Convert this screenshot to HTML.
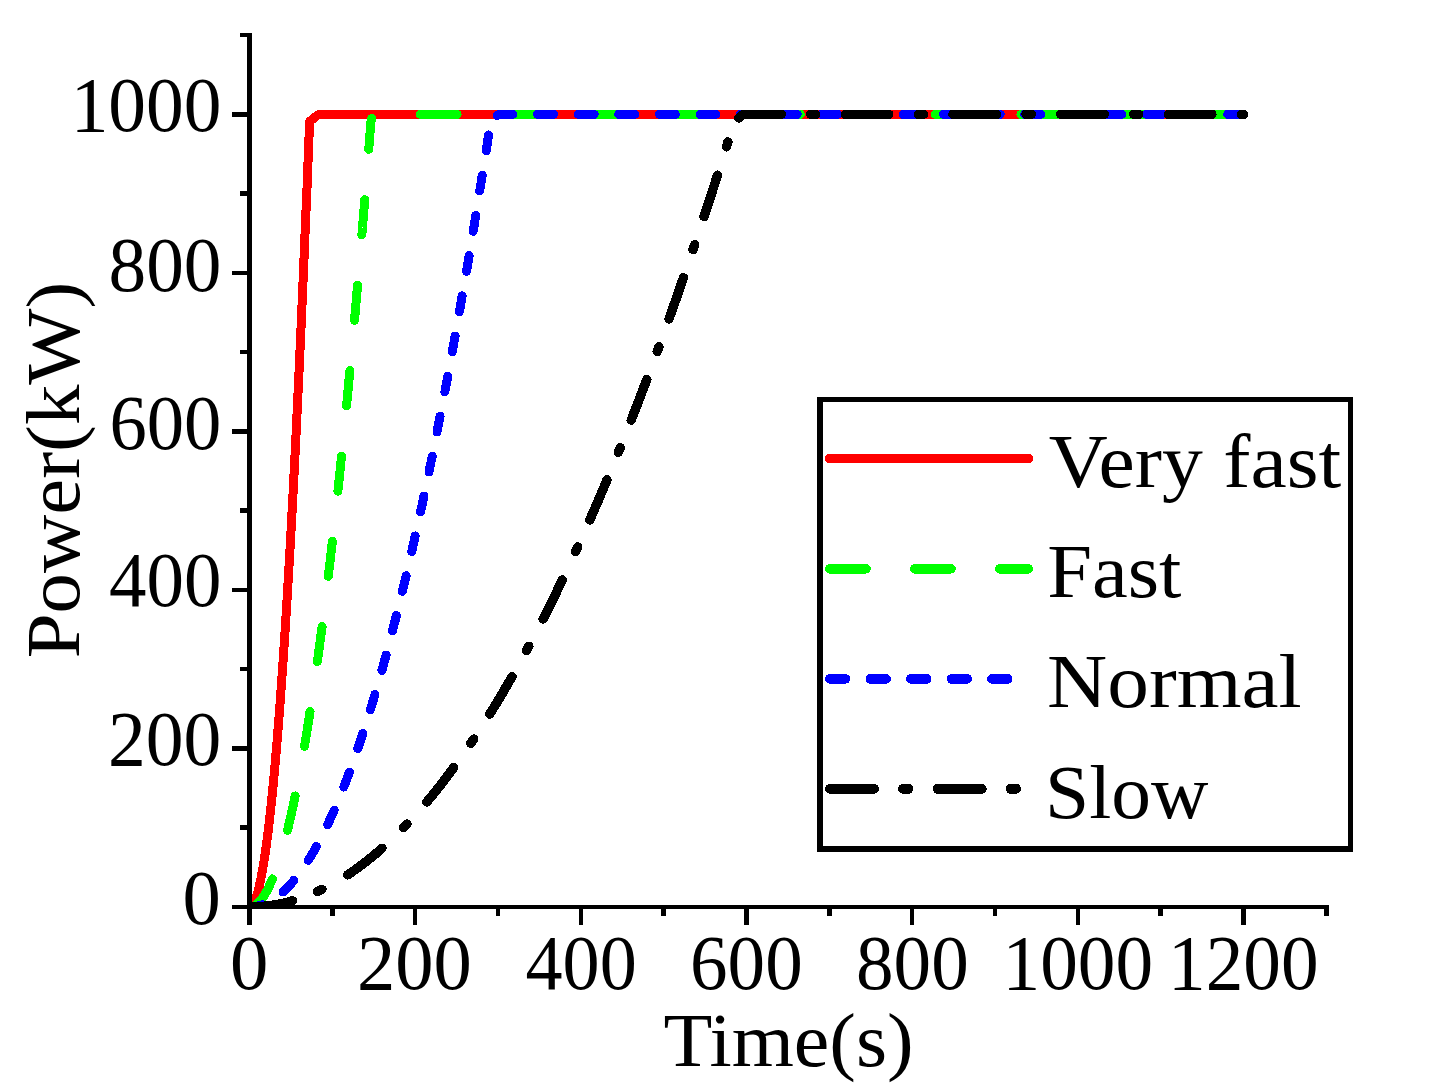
<!DOCTYPE html>
<html lang="en"><head><meta charset="utf-8"><title>Power vs Time</title>
<style>html,body{margin:0;padding:0;background:#fff;overflow:hidden}svg{display:block}text{font-family:"Liberation Serif",serif;fill:#000}</style></head><body>
<svg width="1436" height="1092" viewBox="0 0 1436 1092">
<rect width="1436" height="1092" fill="#fff"/>
<defs><clipPath id="plot"><rect x="249.5" y="0" width="1200" height="907.0"/></clipPath></defs>
<g clip-path="url(#plot)" shape-rendering="crispEdges" fill="none" stroke-width="9" stroke-linecap="round" stroke-linejoin="bevel">
<path d="M249.5 907.0 L250.1 906.9 L250.7 906.7 L251.3 906.3 L251.9 905.7 L252.5 905.0 L253.1 904.2 L253.7 903.2 L254.3 902.0 L254.9 900.6 L255.5 899.1 L256.1 897.5 L256.7 895.7 L257.3 893.7 L257.9 891.6 L258.5 889.3 L259.1 886.9 L259.7 884.3 L260.3 881.5 L260.9 878.6 L261.5 875.6 L262.1 872.4 L262.7 869.0 L263.3 865.4 L263.9 861.7 L264.5 857.9 L265.1 853.9 L265.7 849.7 L266.3 845.4 L266.9 840.9 L267.5 836.3 L268.1 831.5 L268.7 826.6 L269.3 821.4 L269.9 816.2 L270.5 810.8 L271.1 805.2 L271.7 799.5 L272.3 793.6 L272.9 787.5 L273.5 781.3 L274.1 774.9 L274.7 768.4 L275.3 761.7 L275.9 754.9 L276.5 747.9 L277.1 740.8 L277.7 733.5 L278.3 726.0 L278.9 718.4 L279.5 710.6 L280.1 702.7 L280.7 694.6 L281.3 686.3 L281.9 677.9 L282.5 669.4 L283.1 660.6 L283.7 651.8 L284.3 642.7 L284.9 633.5 L285.5 624.2 L286.1 614.7 L286.7 605.0 L287.3 595.2 L287.9 585.2 L288.5 575.1 L289.1 564.8 L289.7 554.3 L290.3 543.7 L290.9 533.0 L291.5 522.1 L292.1 511.0 L292.7 499.7 L293.3 488.4 L293.9 476.8 L294.5 465.1 L295.1 453.2 L295.7 441.2 L296.3 429.0 L296.9 416.7 L297.5 404.2 L298.1 391.6 L298.7 378.8 L299.3 365.8 L299.9 352.7 L300.5 339.4 L301.1 326.0 L301.7 312.4 L302.3 298.6 L302.9 284.7 L303.5 270.7 L304.1 256.4 L304.7 242.1 L305.3 227.5 L305.9 212.8 L306.6 198.0 L307.2 183.0 L307.8 167.8 L308.4 152.5 L309.0 137.0 L309.6 121.4 L318.8 114.3 L1243.5 114.3" stroke="#ff0000" stroke-linecap="butt"/>
<path d="M249.5 907.0 L250.7 906.9 L251.9 906.7 L253.1 906.3 L254.4 905.7 L255.6 905.0 L256.8 904.2 L258.0 903.2 L259.2 902.0 L260.4 900.6 L261.6 899.1 L262.9 897.5 L264.1 895.7 L265.3 893.7 L266.5 891.6 L267.7 889.3 L268.9 886.9 L270.1 884.3 L271.4 881.5 L272.6 878.6 L273.8 875.6 L275.0 872.4 L276.2 869.0 L277.4 865.4 L278.6 861.7 L279.9 857.9 L281.1 853.9 L282.3 849.7 L283.5 845.4 L284.7 840.9 L285.9 836.3 L287.2 831.5 L288.4 826.6 L289.6 821.4 L290.8 816.2 L292.0 810.8 L293.2 805.2 L294.4 799.5 L295.7 793.6 L296.9 787.5 L298.1 781.3 L299.3 774.9 L300.5 768.4 L301.7 761.7 L302.9 754.9 L304.2 747.9 L305.4 740.8 L306.6 733.5 L307.8 726.0 L309.0 718.4 L310.2 710.6 L311.4 702.7 L312.7 694.6 L313.9 686.3 L315.1 677.9 L316.3 669.4 L317.5 660.6 L318.7 651.8 L319.9 642.7 L321.2 633.5 L322.4 624.2 L323.6 614.7 L324.8 605.0 L326.0 595.2 L327.2 585.2 L328.4 575.1 L329.7 564.8 L330.9 554.3 L332.1 543.7 L333.3 533.0 L334.5 522.1 L335.7 511.0 L336.9 499.7 L338.2 488.4 L339.4 476.8 L340.6 465.1 L341.8 453.2 L343.0 441.2 L344.2 429.0 L345.5 416.7 L346.7 404.2 L347.9 391.6 L349.1 378.8 L350.3 365.8 L351.5 352.7 L352.7 339.4 L354.0 326.0 L355.2 312.4 L356.4 298.6 L357.6 284.7 L358.8 270.7 L360.0 256.4 L361.2 242.1 L362.5 227.5 L363.7 212.8 L364.9 198.0 L366.1 183.0 L367.3 167.8 L368.5 152.5 L369.7 137.0 L371.0 121.4 L372.9 114.3 L1243.5 114.3" stroke="#00ff00" stroke-dasharray="38.0 50.8 35.3 50.5 35.3 50.5 35.3 50.5 35.3 50.5 35.3 50.5 35.3 50.5 35.3 50.5 35.3 50.5 31.0 51.8 36.8 49.0 36.8 49.0 36.8 49.0 36.8 49.0 36.8 49.0 36.8 49.0 36.8 49.0 36.8 49.0 36.8 49.0 36.8 49.0"/>
<path d="M249.5 907.0 L251.9 906.9 L254.3 906.7 L256.7 906.3 L259.1 905.7 L261.6 905.0 L264.0 904.2 L266.4 903.2 L268.8 902.0 L271.2 900.6 L273.6 899.1 L276.0 897.5 L278.4 895.7 L280.9 893.7 L283.3 891.6 L285.7 889.3 L288.1 886.9 L290.5 884.3 L292.9 881.5 L295.3 878.6 L297.7 875.6 L300.1 872.4 L302.6 869.0 L305.0 865.4 L307.4 861.7 L309.8 857.9 L312.2 853.9 L314.6 849.7 L317.0 845.4 L319.4 840.9 L321.9 836.3 L324.3 831.5 L326.7 826.6 L329.1 821.4 L331.5 816.2 L333.9 810.8 L336.3 805.2 L338.7 799.5 L341.2 793.6 L343.6 787.5 L346.0 781.3 L348.4 774.9 L350.8 768.4 L353.2 761.7 L355.6 754.9 L358.0 747.9 L360.4 740.8 L362.9 733.5 L365.3 726.0 L367.7 718.4 L370.1 710.6 L372.5 702.7 L374.9 694.6 L377.3 686.3 L379.7 677.9 L382.2 669.4 L384.6 660.6 L387.0 651.8 L389.4 642.7 L391.8 633.5 L394.2 624.2 L396.6 614.7 L399.0 605.0 L401.4 595.2 L403.9 585.2 L406.3 575.1 L408.7 564.8 L411.1 554.3 L413.5 543.7 L415.9 533.0 L418.3 522.1 L420.7 511.0 L423.2 499.7 L425.6 488.4 L428.0 476.8 L430.4 465.1 L432.8 453.2 L435.2 441.2 L437.6 429.0 L440.0 416.7 L442.4 404.2 L444.9 391.6 L447.3 378.8 L449.7 365.8 L452.1 352.7 L454.5 339.4 L456.9 326.0 L459.3 312.4 L461.7 298.6 L464.2 284.7 L466.6 270.7 L469.0 256.4 L471.4 242.1 L473.8 227.5 L476.2 212.8 L478.6 198.0 L481.0 183.0 L483.4 167.8 L485.9 152.5 L488.3 137.0 L490.7 121.4 L498.8 114.3 L1243.5 114.3" stroke="#0000ff" stroke-dasharray="13 24.6 16 24.6 16 24.6 16 24.9 16 24.9 16 24.9 16 24.9 16 24.9 16 24.9 16 24.78 16 24.78 16 24.78 16 24.78 16 24.78 16 24.78 16 24.78 16 24.78 16 24.78 16 24.78 16 24.78 16 22.6 16 24.6 16 24.6 16 24.6 16 24.6 16 24.6 16 24.6 16 24.6 16 24.6 16 24.6 16 24.6 16 24.6 16 24.6 16 24.6 16 24.6 16 24.6 16 24.6 16 24.6 16 24.6 16 24.6 16 24.6 16 24.6 16 24.6 16 24.6 16 24.6 16 24.6 16 24.6 16 24.6 16 24.6 16 24.6 16 24.6"/>
<path d="M249.5 907.0 L254.3 906.9 L259.2 906.7 L264.0 906.3 L268.9 905.7 L273.7 905.0 L278.6 904.2 L283.4 903.2 L288.3 902.0 L293.1 900.6 L298.0 899.1 L302.8 897.5 L307.7 895.7 L312.5 893.7 L317.4 891.6 L322.2 889.3 L327.1 886.9 L331.9 884.3 L336.8 881.5 L341.6 878.6 L346.5 875.6 L351.3 872.4 L356.2 869.0 L361.0 865.4 L365.9 861.7 L370.7 857.9 L375.6 853.9 L380.4 849.7 L385.3 845.4 L390.1 840.9 L395.0 836.3 L399.8 831.5 L404.7 826.6 L409.5 821.4 L414.3 816.2 L419.2 810.8 L424.0 805.2 L428.9 799.5 L433.7 793.6 L438.6 787.5 L443.4 781.3 L448.3 774.9 L453.1 768.4 L458.0 761.7 L462.8 754.9 L467.7 747.9 L472.5 740.8 L477.4 733.5 L482.2 726.0 L487.1 718.4 L491.9 710.6 L496.8 702.7 L501.6 694.6 L506.5 686.3 L511.3 677.9 L516.2 669.4 L521.0 660.6 L525.9 651.8 L530.7 642.7 L535.6 633.5 L540.4 624.2 L545.3 614.7 L550.1 605.0 L555.0 595.2 L559.8 585.2 L564.6 575.1 L569.5 564.8 L574.3 554.3 L579.2 543.7 L584.0 533.0 L588.9 522.1 L593.7 511.0 L598.6 499.7 L603.4 488.4 L608.3 476.8 L613.1 465.1 L618.0 453.2 L622.8 441.2 L627.7 429.0 L632.5 416.7 L637.4 404.2 L642.2 391.6 L647.1 378.8 L651.9 365.8 L656.8 352.7 L661.6 339.4 L666.5 326.0 L671.3 312.4 L676.2 298.6 L681.0 284.7 L685.9 270.7 L690.7 256.4 L695.6 242.1 L700.4 227.5 L705.3 212.8 L710.1 198.0 L715.0 183.0 L719.8 167.8 L724.6 152.5 L729.5 137.0 L734.3 121.4 L743.5 114.3 L1243.5 114.3" stroke="#000000" stroke-width="9.4" stroke-dasharray="43.60 26.50 5.10 29.50 43.60 29.70 5.10 29.68 43.60 29.70 5.10 29.68 43.60 29.70 5.10 30.68 43.60 31.20 5.10 29.68 43.60 29.70 5.10 29.68 43.60 29.70 5.10 29.68 43.60 29.70 5.10 29.68 43.60 29.70 5.10 27.18 43.60 29.50 5.10 29.50 43.60 29.50 5.10 29.50 43.60 29.50 5.10 29.50 43.60 29.50 5.10 29.50 43.60 29.50 5.10 29.50"/>
</g>
<g fill="#000" shape-rendering="crispEdges">
<rect x="247" y="33" width="5" height="892"/>
<rect x="232" y="905" width="1097" height="4"/>
<rect x="240" y="825" width="7" height="5"/>
<rect x="232" y="746" width="15" height="5"/>
<rect x="240" y="667" width="7" height="4"/>
<rect x="232" y="588" width="15" height="4"/>
<rect x="240" y="508" width="7" height="5"/>
<rect x="232" y="429" width="15" height="5"/>
<rect x="240" y="350" width="7" height="4"/>
<rect x="232" y="271" width="15" height="4"/>
<rect x="240" y="191" width="7" height="5"/>
<rect x="232" y="112" width="15" height="5"/>
<rect x="240" y="33" width="7" height="4"/>
<rect x="330" y="909" width="5" height="7"/>
<rect x="413" y="909" width="4" height="16"/>
<rect x="496" y="909" width="4" height="7"/>
<rect x="579" y="909" width="4" height="16"/>
<rect x="661" y="909" width="5" height="7"/>
<rect x="744" y="909" width="5" height="16"/>
<rect x="827" y="909" width="5" height="7"/>
<rect x="910" y="909" width="4" height="16"/>
<rect x="993" y="909" width="4" height="7"/>
<rect x="1076" y="909" width="4" height="16"/>
<rect x="1158" y="909" width="5" height="7"/>
<rect x="1241" y="909" width="5" height="16"/>
<rect x="1324" y="909" width="5" height="7"/>
</g>
<path d="M817 397H1353V852H817ZM823 402V846H1348V402Z" fill="#000" fill-rule="evenodd" shape-rendering="crispEdges"/>
<g fill="none" shape-rendering="crispEdges" stroke-width="9.6" stroke-linecap="round">
<path d="M829.6 458.5 H1028.4" stroke="#ff0000"/>
<path d="M829.8 568.8 H1028.3" stroke="#00ff00" stroke-dasharray="36.2 48.8"/>
<path d="M829.8 678.9 H1028.3" stroke="#0000ff" stroke-dasharray="15.7 24.85"/>
<path d="M829.9 788.8 H1028.3" stroke="#000000" stroke-width="9.9" stroke-dasharray="44 29 5.5 29.3"/>
</g>
<text id="y1000" transform="translate(70.66 131.40) scale(0.9695 1)" font-size="77.8">1000</text>
<text id="y800" transform="translate(108.50 290.57) scale(0.9675 1)" font-size="77.8">800</text>
<text id="y600" transform="translate(109.43 448.94) scale(0.9593 1)" font-size="77.8">600</text>
<text id="y400" transform="translate(109.00 606.11) scale(0.9630 1)" font-size="77.8">400</text>
<text id="y200" transform="translate(108.00 764.68) scale(0.9719 1)" font-size="77.8">200</text>
<text id="y0" transform="translate(182.60 924.20) scale(0.9848 1)" font-size="77.8">0</text>
<text id="x0" transform="translate(229.94 988.70) scale(0.9864 1)" font-size="77.8">0</text>
<text id="x200" transform="translate(357.00 988.70) scale(0.9845 1)" font-size="77.8">200</text>
<text id="x400" transform="translate(525.47 988.70) scale(0.9532 1)" font-size="77.8">400</text>
<text id="x600" transform="translate(690.06 988.70) scale(0.9652 1)" font-size="77.8">600</text>
<text id="x800" transform="translate(856.05 988.70) scale(0.9657 1)" font-size="77.8">800</text>
<text id="x1000" transform="translate(1002.51 988.70) scale(0.9682 1)" font-size="77.8">1000</text>
<text id="x1200" transform="translate(1168.02 988.70) scale(0.9678 1)" font-size="77.8">1200</text>
<text id="time" transform="translate(663.44 1066.40) scale(1.0381 1)" font-size="77">Time(s)</text>
<text id="power" transform="translate(78.60 658.36) rotate(-90) scale(1.0495 1)" font-size="77">Power(kW)</text>
<text id="l1" transform="translate(1048.70 487.20) scale(1.0604 1)" font-size="77">Very fast</text>
<text id="l2" transform="translate(1047.15 596.80) scale(1.0457 1)" font-size="77">Fast</text>
<text id="l3" transform="translate(1047.07 707.25) scale(1.0821 1)" font-size="77">Normal</text>
<text id="l4" transform="translate(1044.94 817.50) scale(1.0321 1)" font-size="77">Slow</text>
</svg></body></html>
